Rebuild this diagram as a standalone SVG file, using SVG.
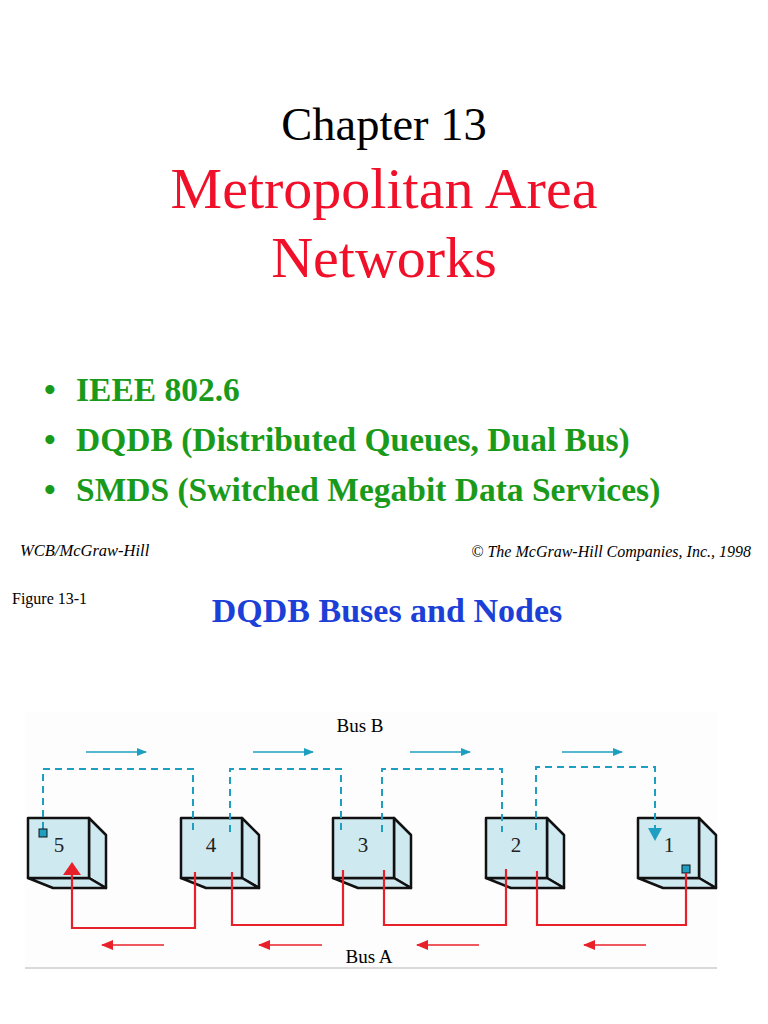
<svg xmlns="http://www.w3.org/2000/svg" width="768" height="1024" viewBox="0 0 768 1024">
<style>
text{font-family:"Liberation Serif",serif}
.g{fill:#1a9a1a;font-weight:bold;font-size:33.5px}
.face{fill:#cfe9f1;stroke:#111;stroke-width:2.5;stroke-linejoin:round}
.num{font-size:21px;fill:#222;text-anchor:middle}
.bb{fill:none;stroke:#1e9fc2;stroke-width:2;stroke-dasharray:7,5}
.ba{fill:none;stroke:#e8202a;stroke-width:2.2}
.ab{stroke:#1e9fc2;stroke-width:1.6}
.ar{stroke:#e8202a;stroke-width:1.6}
</style>
<defs>
<marker id="mb" markerWidth="10" markerHeight="8" refX="9" refY="4" orient="auto" markerUnits="userSpaceOnUse"><path d="M0,0L10,4L0,8z" fill="#1e9fc2"/></marker>
<marker id="mr" markerWidth="12" markerHeight="10" refX="11" refY="5" orient="auto" markerUnits="userSpaceOnUse"><path d="M0,0L12,5L0,10z" fill="#e8202a"/></marker>
<g id="cube"><polygon class="face" points="61,0 78,17 78,70 61,60"/><polygon class="face" points="0,60 61,60 78,70 25,70"/><rect class="face" x="0" y="0" width="61" height="60"/></g>
</defs>
<rect width="768" height="1024" fill="#fff"/>
<text x="384" y="140" font-size="46.5" text-anchor="middle">Chapter 13</text>
<text x="384" y="208" font-size="58" fill="#f0102a" text-anchor="middle">Metropolitan Area</text>
<text x="384" y="277" font-size="58" fill="#f0102a" text-anchor="middle">Networks</text>
<text x="44" y="401" class="g">•</text><text x="76" y="401" class="g">IEEE 802.6</text>
<text x="44" y="451" class="g">•</text><text x="76" y="451" class="g">DQDB (Distributed Queues, Dual Bus)</text>
<text x="44" y="501" class="g">•</text><text x="76" y="501" class="g">SMDS (Switched Megabit Data Services)</text>
<text x="20" y="556" font-size="16.5" font-style="italic">WCB/McGraw-Hill</text>
<text x="751" y="557" font-size="16" font-style="italic" text-anchor="end">© The McGraw-Hill Companies, Inc., 1998</text>
<text x="12" y="604" font-size="16">Figure 13-1</text>
<text x="387" y="622" font-size="34" font-weight="bold" fill="#1c3fd8" text-anchor="middle">DQDB Buses and Nodes</text>
<rect x="25" y="712" width="692" height="256" fill="#fdfdfd"/>
<line x1="25" y1="968" x2="717" y2="968" stroke="#ccc" stroke-width="1.5"/>
<text x="360" y="732" font-size="19" text-anchor="middle">Bus B</text>
<text x="369" y="963" font-size="19" text-anchor="middle">Bus A</text>
<g id="node5"><use href="#cube" x="28" y="818"/><text class="num" x="59" y="852">5</text></g>
<g id="node4"><use href="#cube" x="181" y="818"/><text class="num" x="211" y="852">4</text></g>
<g id="node3"><use href="#cube" x="333" y="818"/><text class="num" x="363" y="852">3</text></g>
<g id="node2"><use href="#cube" x="486" y="818"/><text class="num" x="516" y="852">2</text></g>
<g id="node1"><use href="#cube" x="638" y="818"/><text class="num" x="669" y="852">1</text></g>
<g id="connectors">
<path class="bb" d="M43,829V769H193V832"/>
<path class="bb" d="M230,832V769H341V832"/>
<path class="bb" d="M382,832V769H502V832"/>
<path class="bb" d="M536,830V767H655V830"/>
<polygon points="648,828 662,828 655,841" fill="#1e9fc2"/>
<rect x="39" y="829" width="8" height="8" fill="#1e9fc2" stroke="#111" stroke-width="1"/>
<rect x="682" y="865" width="8" height="8" fill="#1e9fc2" stroke="#111" stroke-width="1"/>
<path class="ba" d="M72,872V928H195V872"/>
<path class="ba" d="M232,872V925H343V870"/>
<path class="ba" d="M384,870V925H506V869"/>
<path class="ba" d="M537,871V925H686V873"/>
<polygon points="63,875 81,875 72,862" fill="#e8202a"/>
<line class="ab" x1="86" y1="752" x2="146" y2="752" marker-end="url(#mb)"/>
<line class="ab" x1="253" y1="752" x2="313" y2="752" marker-end="url(#mb)"/>
<line class="ab" x1="410" y1="752" x2="470" y2="752" marker-end="url(#mb)"/>
<line class="ab" x1="562" y1="752" x2="622" y2="752" marker-end="url(#mb)"/>
<line class="ar" x1="164" y1="945" x2="102" y2="945" marker-end="url(#mr)"/>
<line class="ar" x1="322" y1="945" x2="259" y2="945" marker-end="url(#mr)"/>
<line class="ar" x1="479" y1="945" x2="417" y2="945" marker-end="url(#mr)"/>
<line class="ar" x1="646" y1="945" x2="584" y2="945" marker-end="url(#mr)"/>
</g>
</svg>
